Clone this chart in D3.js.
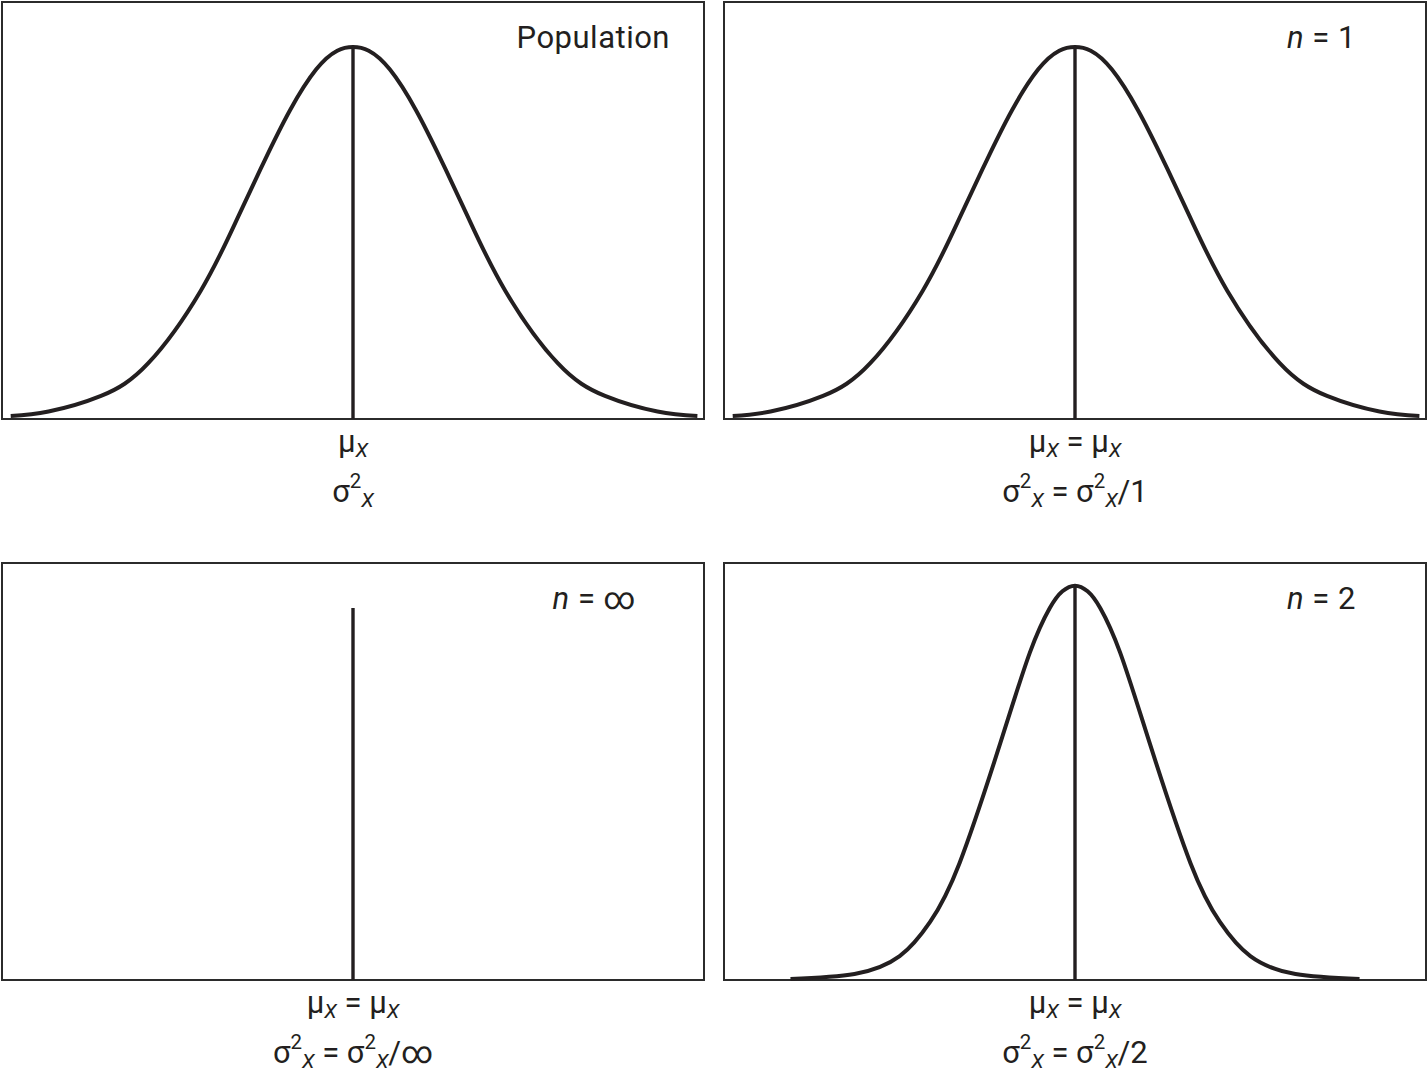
<!DOCTYPE html>
<html>
<head>
<meta charset="utf-8">
<script src="https://cdn.jsdelivr.net/npm/d3@7"></script>
<style>
  html, body { margin: 0; padding: 0; background: #fff; }
  svg { display: block; }
  text { font-family: Roboto, "Noto Sans", sans-serif; fill: #231f20; }
</style>
</head>
<body>
<div id="chart"></div>
<script>
// population curve, x in population-sd units, height relative to the population peak
const popZ = [-3.26, -2.9, -2.4, -1.95, -1.45, -1.1, -0.85, -0.6, -0.35, -0.15, 0, 0.15, 0.35, 0.6, 0.85, 1.1, 1.45, 1.95, 2.4, 2.9, 3.28];
const popH = [0.008, 0.02, 0.062, 0.15, 0.345, 0.54, 0.69, 0.83, 0.94, 0.99, 1, 0.99, 0.94, 0.83, 0.69, 0.54, 0.345, 0.15, 0.062, 0.02, 0.008];

// sampling distribution for n = 2 (narrower, a bit taller)
const n2Z = [-2.71, -2.1, -1.67, -1.38, -1.1, -0.71, -0.43, -0.24, -0.12, 0, 0.12, 0.24, 0.43, 0.71, 1.1, 1.38, 1.67, 2.1, 2.71];
const n2H = [0.003, 0.016, 0.064, 0.156, 0.314, 0.638, 0.88, 1.0, 1.045, 1.06, 1.045, 1.0, 0.88, 0.638, 0.314, 0.156, 0.064, 0.016, 0.003];

// mean line height per panel
const meanH = [1, 1, 1, 1.06];

// panel titles ("*" marks italic part)
const titles = ['Population', '*n* = 1', '*n* = ∞', '*n* = 2'];

// labels under each panel: ^ superscript char, _ subscript char
const meanLabels = ['μ_X', 'μ_X = μ_X', 'μ_X = μ_X', 'μ_X = μ_X'];
const varLabels = ['σ^2_X', 'σ^2_X = σ^2_X/1', 'σ^2_X = σ^2_X/∞', 'σ^2_X = σ^2_X/2'];

const curves = [
  popZ.map((z, i) => [z, popH[i]]),
  popZ.map((z, i) => [z, popH[i]]),
  null,
  n2Z.map((z, i) => [z, n2H[i]])
];

const W = 1428, H = 1073;
const layout = {
  panelW: 702, panelH: 417,
  origins: [[2, 2], [724, 2], [2, 563], [724, 563]],
  titleRight: [668, 632, 634, 632], // offset of title end from panel left
  titleY: 46
};

const svg = d3.select('#chart').append('svg')
  .attr('width', W).attr('height', H);

const x = d3.scaleLinear().domain([-3.343, 3.343]).range([0, layout.panelW]);
const y = d3.scaleLinear().domain([0, 1.121]).range([layout.panelH, 0]);

const line = d3.line()
  .x(d => x(d[0]))
  .y(d => y(d[1]))
  .curve(d3.curveNatural);

// writes a tiny markup string into tspans
function richText(sel, str, size) {
  let shift = 0;
  const sub = size * 0.66;
  for (let i = 0; i < str.length; i++) {
    const c = str[i];
    if (c === '^') {
      const ch = str[++i];
      sel.append('tspan').attr('dy', -14 - shift).style('font-size', sub + 'px').text(ch);
      shift = -14;
    } else if (c === '_') {
      const ch = str[++i];
      sel.append('tspan').attr('dy', 5 - shift).style('font-size', sub + 'px')
        .style('font-style', 'italic').text(ch);
      shift = 5;
    } else {
      let run = '';
      while (i < str.length && str[i] !== '^' && str[i] !== '_') { run += str[i]; i++; }
      i--;
      sel.append('tspan').attr('dy', -shift).style('font-size', size + 'px').text(run);
      shift = 0;
    }
  }
}

layout.origins.forEach((o, p) => {
  const g = svg.append('g').attr('transform', `translate(${o[0]}, ${o[1]})`);

  g.append('rect')
    .attr('width', layout.panelW).attr('height', layout.panelH)
    .attr('fill', 'none').attr('stroke', '#2b2b2b').attr('stroke-width', 2);

  if (curves[p]) {
    g.append('path')
      .datum(curves[p])
      .attr('d', line)
      .attr('fill', 'none')
      .attr('stroke', '#231f20')
      .attr('stroke-width', 4)
      .attr('stroke-linejoin', 'round');
  }

  g.append('line')
    .attr('x1', x(0)).attr('x2', x(0))
    .attr('y1', y(0)).attr('y2', y(meanH[p]))
    .attr('stroke', '#231f20').attr('stroke-width', 3.4);

  // title
  const t = g.append('text')
    .attr('x', layout.titleRight[p]).attr('y', layout.titleY)
    .attr('text-anchor', 'end')
    .style('font-size', '31px')
    .style('letter-spacing', '0.5px');
  titles[p].split('*').forEach((part, k) => {
    if (!part) return;
    t.append('tspan').style('font-style', k % 2 ? 'italic' : 'normal').text(part);
  });

  // labels under the panel
  const m = g.append('text')
    .attr('x', x(0)).attr('y', layout.panelH + 33)
    .attr('text-anchor', 'middle');
  richText(m, meanLabels[p], 31);

  const v = g.append('text')
    .attr('x', x(0)).attr('y', layout.panelH + 83)
    .attr('text-anchor', 'middle');
  richText(v, varLabels[p], 31);
});
</script>
</body>
</html>
